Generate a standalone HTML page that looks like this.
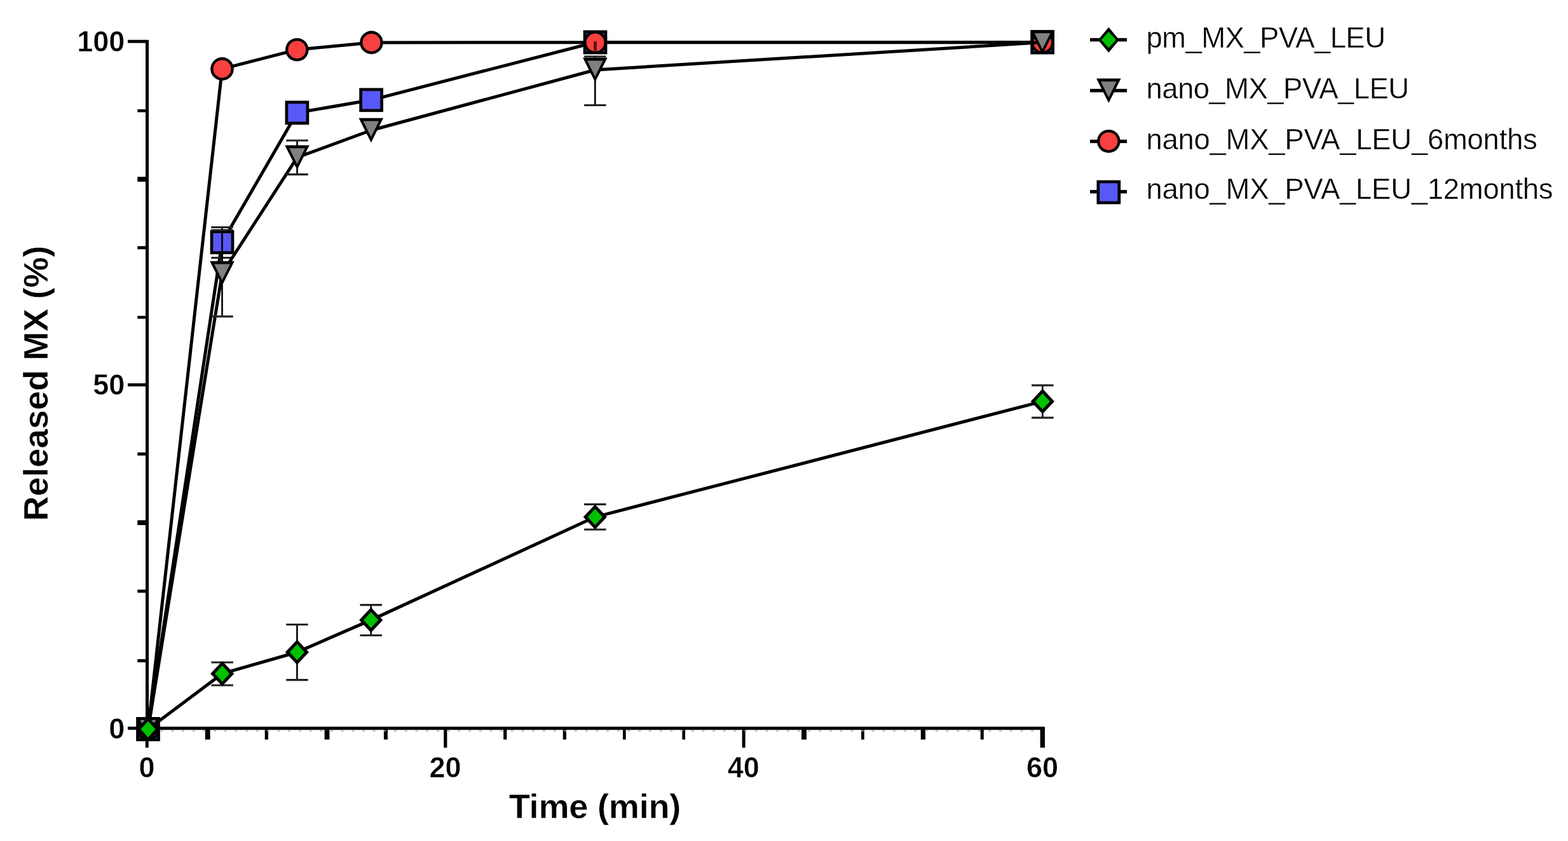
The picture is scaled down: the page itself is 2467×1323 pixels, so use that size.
<!DOCTYPE html>
<html><head><meta charset="utf-8"><title>Released MX</title>
<style>html,body{margin:0;padding:0;background:#fff;width:2467px;height:1323px;overflow:hidden}svg{display:block}</style>
</head><body>
<svg width="2467" height="1323" viewBox="0 0 2467 1323">
<rect x="229.0" y="62.8" width="5.0" height="1085.4" fill="#000"/>
<rect x="229.0" y="1143.2" width="1414.9" height="5.0" fill="#000"/>
<rect x="201.0" y="1143.15" width="30" height="4.9" fill="#000"/>
<rect x="216.3" y="1036.90" width="15" height="5.0" fill="#000"/>
<rect x="216.3" y="927.55" width="15" height="4.9" fill="#000"/>
<rect x="216.3" y="818.40" width="15" height="7.6" fill="#000"/>
<rect x="216.3" y="711.75" width="15" height="4.9" fill="#000"/>
<rect x="201.0" y="603.00" width="30" height="4.8" fill="#000"/>
<rect x="216.3" y="496.90" width="15" height="4.6" fill="#000"/>
<rect x="216.3" y="387.25" width="15" height="4.9" fill="#000"/>
<rect x="216.3" y="278.15" width="15" height="7.7" fill="#000"/>
<rect x="216.3" y="171.90" width="15" height="4.6" fill="#000"/>
<rect x="201.0" y="62.75" width="30" height="4.9" fill="#000"/>
<rect x="228.85" y="1145" width="4.9" height="31.2" fill="#000"/>
<rect x="322.80" y="1145" width="7.8" height="18.4" fill="#000"/>
<rect x="416.70" y="1145" width="5.2" height="18.4" fill="#000"/>
<rect x="510.60" y="1145" width="7.8" height="18.4" fill="#000"/>
<rect x="603.90" y="1145" width="6.0" height="18.4" fill="#000"/>
<rect x="698.20" y="1145" width="5.2" height="31.2" fill="#000"/>
<rect x="792.10" y="1145" width="5.2" height="18.4" fill="#000"/>
<rect x="885.70" y="1145" width="5.2" height="18.4" fill="#000"/>
<rect x="979.95" y="1145" width="4.7" height="18.4" fill="#000"/>
<rect x="1073.35" y="1145" width="4.7" height="18.4" fill="#000"/>
<rect x="1167.60" y="1145" width="5.0" height="31.2" fill="#000"/>
<rect x="1261.05" y="1145" width="7.9" height="18.4" fill="#000"/>
<rect x="1355.05" y="1145" width="4.7" height="18.4" fill="#000"/>
<rect x="1448.75" y="1145" width="7.3" height="18.4" fill="#000"/>
<rect x="1542.70" y="1145" width="5.0" height="18.4" fill="#000"/>
<rect x="1636.60" y="1145" width="7.3" height="31.2" fill="#000"/>
<line x1="236" y1="1149.6" x2="1636" y2="1149.6" stroke="#a8a8a8" stroke-width="1.6" stroke-dasharray="4 12.7"/>
<polyline fill="none" stroke="#000" stroke-width="5.00" stroke-linejoin="round" points="233.00,1147.20 349.50,381.00 467.40,177.30 584.10,157.30 936.50,66.50 1640.10,66.60"/>
<line x1="349.50" y1="357.50" x2="349.50" y2="405.50" stroke="#000" stroke-width="2.6"/><line x1="332.25" y1="357.50" x2="366.75" y2="357.50" stroke="#222" stroke-width="3.2"/><line x1="332.25" y1="405.50" x2="366.75" y2="405.50" stroke="#222" stroke-width="3.2"/>
<rect x="214.15" y="1128.35" width="37.70" height="37.70" fill="#000"/><rect x="218.85" y="1133.05" width="28.30" height="28.30" fill="#5858f8"/><rect x="330.65" y="362.15" width="37.70" height="37.70" fill="#000"/><rect x="335.35" y="366.85" width="28.30" height="28.30" fill="#5858f8"/><rect x="448.55" y="158.45" width="37.70" height="37.70" fill="#000"/><rect x="453.25" y="163.15" width="28.30" height="28.30" fill="#5858f8"/><rect x="565.25" y="138.45" width="37.70" height="37.70" fill="#000"/><rect x="569.95" y="143.15" width="28.30" height="28.30" fill="#5858f8"/><rect x="917.65" y="47.65" width="37.70" height="37.70" fill="#000"/><rect x="922.35" y="52.35" width="28.30" height="28.30" fill="#5858f8"/><rect x="1621.25" y="47.75" width="37.70" height="37.70" fill="#000"/><rect x="1625.95" y="52.45" width="28.30" height="28.30" fill="#5858f8"/>
<polyline fill="none" stroke="#000" stroke-width="5.00" stroke-linejoin="round" points="233.00,1147.20 349.50,108.40 467.30,78.20 584.40,66.90 936.50,66.80 1640.10,66.60"/>
<circle cx="233.00" cy="1147.20" r="18.3" fill="#000"/><circle cx="233.00" cy="1147.20" r="14" fill="#f84040"/><circle cx="349.50" cy="108.40" r="18.3" fill="#000"/><circle cx="349.50" cy="108.40" r="14" fill="#f84040"/><circle cx="467.30" cy="78.20" r="18.3" fill="#000"/><circle cx="467.30" cy="78.20" r="14" fill="#f84040"/><circle cx="584.40" cy="66.90" r="18.3" fill="#000"/><circle cx="584.40" cy="66.90" r="14" fill="#f84040"/><circle cx="936.50" cy="66.80" r="18.3" fill="#000"/><circle cx="936.50" cy="66.80" r="14" fill="#f84040"/><circle cx="1640.10" cy="66.60" r="18.3" fill="#000"/><circle cx="1640.10" cy="66.60" r="14" fill="#f84040"/>
<polyline fill="none" stroke="#000" stroke-width="5.00" stroke-linejoin="round" points="233.00,1147.20 349.50,430.00 467.50,247.70 583.80,205.00 936.30,110.00 1640.10,66.60"/>
<line x1="349.50" y1="362.00" x2="349.50" y2="497.80" stroke="#000" stroke-width="2.6"/><line x1="332.25" y1="362.00" x2="366.75" y2="362.00" stroke="#222" stroke-width="3.2"/><line x1="332.25" y1="497.80" x2="366.75" y2="497.80" stroke="#222" stroke-width="3.2"/>
<line x1="467.50" y1="221.00" x2="467.50" y2="274.40" stroke="#000" stroke-width="2.6"/><line x1="450.25" y1="221.00" x2="484.75" y2="221.00" stroke="#222" stroke-width="3.2"/><line x1="450.25" y1="274.40" x2="484.75" y2="274.40" stroke="#222" stroke-width="3.2"/>
<line x1="936.30" y1="89.00" x2="936.30" y2="165.50" stroke="#000" stroke-width="2.6"/><line x1="919.05" y1="89.00" x2="953.55" y2="89.00" stroke="#222" stroke-width="3.2"/><line x1="919.05" y1="165.50" x2="953.55" y2="165.50" stroke="#222" stroke-width="3.2"/>
<rect x="934.1" y="65.2" width="4.8" height="15.2" fill="#5a1414"/>
<polygon points="213.70,1127.95 252.30,1127.95 233.00,1166.45" fill="#000"/><polygon points="220.60,1132.80 245.40,1132.80 233.00,1157.80" fill="#808080"/><polygon points="330.20,410.75 368.80,410.75 349.50,449.25" fill="#000"/><polygon points="337.10,415.60 361.90,415.60 349.50,440.60" fill="#808080"/><polygon points="448.20,228.45 486.80,228.45 467.50,266.95" fill="#000"/><polygon points="455.10,233.30 479.90,233.30 467.50,258.30" fill="#808080"/><polygon points="564.50,185.75 603.10,185.75 583.80,224.25" fill="#000"/><polygon points="571.40,190.60 596.20,190.60 583.80,215.60" fill="#808080"/><polygon points="917.00,90.75 955.60,90.75 936.30,129.25" fill="#000"/><polygon points="923.90,95.60 948.70,95.60 936.30,120.60" fill="#808080"/><polygon points="1620.80,47.35 1659.40,47.35 1640.10,85.85" fill="#000"/><polygon points="1627.70,52.20 1652.50,52.20 1640.10,77.20" fill="#808080"/>
<polyline fill="none" stroke="#000" stroke-width="5.00" stroke-linejoin="round" points="233.00,1147.20 349.70,1059.70 467.40,1026.00 583.70,975.40 936.30,813.30 1640.30,631.40"/>
<line x1="349.70" y1="1042.00" x2="349.70" y2="1078.00" stroke="#000" stroke-width="2.6"/><line x1="332.45" y1="1042.00" x2="366.95" y2="1042.00" stroke="#222" stroke-width="3.2"/><line x1="332.45" y1="1078.00" x2="366.95" y2="1078.00" stroke="#222" stroke-width="3.2"/>
<line x1="467.40" y1="982.50" x2="467.40" y2="1069.70" stroke="#000" stroke-width="2.6"/><line x1="450.15" y1="982.50" x2="484.65" y2="982.50" stroke="#222" stroke-width="3.2"/><line x1="450.15" y1="1069.70" x2="484.65" y2="1069.70" stroke="#222" stroke-width="3.2"/>
<line x1="583.70" y1="951.60" x2="583.70" y2="999.50" stroke="#000" stroke-width="2.6"/><line x1="566.45" y1="951.60" x2="600.95" y2="951.60" stroke="#222" stroke-width="3.2"/><line x1="566.45" y1="999.50" x2="600.95" y2="999.50" stroke="#222" stroke-width="3.2"/>
<line x1="936.30" y1="793.30" x2="936.30" y2="833.00" stroke="#000" stroke-width="2.6"/><line x1="919.05" y1="793.30" x2="953.55" y2="793.30" stroke="#222" stroke-width="3.2"/><line x1="919.05" y1="833.00" x2="953.55" y2="833.00" stroke="#222" stroke-width="3.2"/>
<line x1="1640.30" y1="606.10" x2="1640.30" y2="657.10" stroke="#000" stroke-width="2.6"/><line x1="1623.05" y1="606.10" x2="1657.55" y2="606.10" stroke="#222" stroke-width="3.2"/><line x1="1623.05" y1="657.10" x2="1657.55" y2="657.10" stroke="#222" stroke-width="3.2"/>
<polygon points="233.00,1127.40 251.60,1147.20 233.00,1167.00 214.40,1147.20" fill="#000"/><polygon points="233.00,1134.50 244.60,1147.20 233.00,1159.90 221.40,1147.20" fill="#00c000"/><polygon points="349.70,1039.90 368.30,1059.70 349.70,1079.50 331.10,1059.70" fill="#000"/><polygon points="349.70,1047.00 361.30,1059.70 349.70,1072.40 338.10,1059.70" fill="#00c000"/><polygon points="467.40,1006.20 486.00,1026.00 467.40,1045.80 448.80,1026.00" fill="#000"/><polygon points="467.40,1013.30 479.00,1026.00 467.40,1038.70 455.80,1026.00" fill="#00c000"/><polygon points="583.70,955.60 602.30,975.40 583.70,995.20 565.10,975.40" fill="#000"/><polygon points="583.70,962.70 595.30,975.40 583.70,988.10 572.10,975.40" fill="#00c000"/><polygon points="936.30,793.50 954.90,813.30 936.30,833.10 917.70,813.30" fill="#000"/><polygon points="936.30,800.60 947.90,813.30 936.30,826.00 924.70,813.30" fill="#00c000"/><polygon points="1640.30,611.60 1658.90,631.40 1640.30,651.20 1621.70,631.40" fill="#000"/><polygon points="1640.30,618.70 1651.90,631.40 1640.30,644.10 1628.70,631.40" fill="#00c000"/>
<text transform="translate(196.3 1161.50) scale(1 1.04)" font-family="Liberation Sans, Arial, sans-serif" font-weight="bold" stroke="#fff" stroke-width="0.5" font-size="45" text-anchor="end">0</text>
<text transform="translate(196.3 621.30) scale(1 1.04)" font-family="Liberation Sans, Arial, sans-serif" font-weight="bold" stroke="#fff" stroke-width="0.5" font-size="45" text-anchor="end">50</text>
<text transform="translate(196.3 81.10) scale(1 1.04)" font-family="Liberation Sans, Arial, sans-serif" font-weight="bold" stroke="#fff" stroke-width="0.5" font-size="45" text-anchor="end">100</text>
<text transform="translate(231.00 1223.1) scale(1 1.04)" font-family="Liberation Sans, Arial, sans-serif" font-weight="bold" stroke="#fff" stroke-width="0.5" font-size="45" text-anchor="middle">0</text>
<text transform="translate(700.50 1223.1) scale(1 1.04)" font-family="Liberation Sans, Arial, sans-serif" font-weight="bold" stroke="#fff" stroke-width="0.5" font-size="45" text-anchor="middle">20</text>
<text transform="translate(1169.80 1223.1) scale(1 1.04)" font-family="Liberation Sans, Arial, sans-serif" font-weight="bold" stroke="#fff" stroke-width="0.5" font-size="45" text-anchor="middle">40</text>
<text transform="translate(1639.95 1223.1) scale(1 1.04)" font-family="Liberation Sans, Arial, sans-serif" font-weight="bold" stroke="#fff" stroke-width="0.5" font-size="45" text-anchor="middle">60</text>
<text x="936" y="1287.2" font-family="Liberation Sans, Arial, sans-serif" font-weight="bold" stroke="#fff" stroke-width="0.4" font-size="54" text-anchor="middle" textLength="270.6" lengthAdjust="spacing">Time (min)</text>
<text transform="translate(74.6 603) rotate(-90)" x="0" y="0" font-family="Liberation Sans, Arial, sans-serif" font-weight="bold" stroke="#fff" stroke-width="0.4" font-size="54" text-anchor="middle" textLength="433.2" lengthAdjust="spacing">Released MX (%)</text>
<rect x="1715" y="59.90" width="58" height="5.4" fill="#000"/>
<polygon points="1744.30,42.70 1760.90,62.70 1744.30,82.70 1727.70,62.70" fill="#000"/><polygon points="1744.30,50.00 1755.90,62.70 1744.30,75.40 1732.70,62.70" fill="#00c000"/>
<text x="1803.4" y="75.40" font-family="Liberation Sans, Arial, sans-serif" font-size="45.5" fill="#000" stroke="#fff" stroke-width="0.4" textLength="376.6" lengthAdjust="spacing">pm_MX_PVA_LEU</text>
<rect x="1715" y="139.80" width="58" height="5.4" fill="#000"/>
<polygon points="1725.00,123.50 1763.60,123.50 1744.30,162.00" fill="#000"/><polygon points="1731.90,128.35 1756.70,128.35 1744.30,153.35" fill="#808080"/>
<text x="1803.4" y="154.60" font-family="Liberation Sans, Arial, sans-serif" font-size="45.5" fill="#000" stroke="#fff" stroke-width="0.4" textLength="413.7" lengthAdjust="spacing">nano_MX_PVA_LEU</text>
<rect x="1715" y="219.70" width="58" height="5.4" fill="#000"/>
<circle cx="1744.30" cy="222.20" r="18.3" fill="#000"/><circle cx="1744.30" cy="222.20" r="14" fill="#f84040"/>
<text x="1803.4" y="234.90" font-family="Liberation Sans, Arial, sans-serif" font-size="45.5" fill="#000" stroke="#fff" stroke-width="0.4" textLength="615.4" lengthAdjust="spacing">nano_MX_PVA_LEU_6months</text>
<rect x="1715" y="298.90" width="58" height="5.4" fill="#000"/>
<rect x="1725.45" y="283.55" width="37.70" height="37.70" fill="#000"/><rect x="1730.15" y="288.25" width="28.30" height="28.30" fill="#5858f8"/>
<text x="1803.4" y="313.30" font-family="Liberation Sans, Arial, sans-serif" font-size="45.5" fill="#000" stroke="#fff" stroke-width="0.4" textLength="640.2" lengthAdjust="spacing">nano_MX_PVA_LEU_12months</text>
</svg>
</body></html>
